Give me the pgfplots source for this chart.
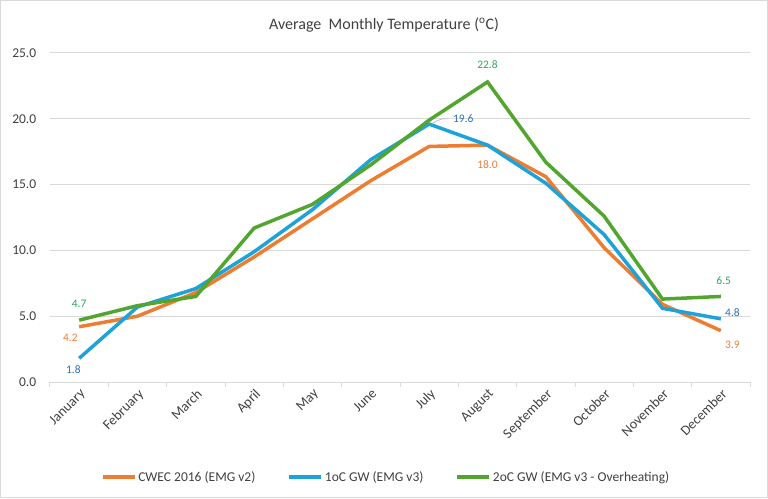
\documentclass[border=0pt]{standalone}
\usepackage{pgfplots}
\pgfplotsset{compat=1.18}
\usepackage{fontspec}
\setmainfont{Carlito}
\definecolor{cwec}{HTML}{ED7D31}
\definecolor{gwone}{HTML}{1EA2DA}
\definecolor{gwtwo}{HTML}{52A630}
\definecolor{lblorange}{HTML}{E8803F}
\definecolor{lblblue}{HTML}{2F6FB0}
\definecolor{lblgreen}{HTML}{30A55E}
\definecolor{txt}{HTML}{404040}
\definecolor{gridc}{HTML}{D9D9D9}

\pgfplotstableread{
m  cwec  gw1   gw2
0  4.2   1.8   4.7
1  5.0   5.7   5.8
2  6.8   7.1   6.5
3  9.5   9.9   11.7
4  12.4  13.1  13.5
5  15.3  16.9  16.5
6  17.9  19.6  19.9
7  18.0  18.0  22.8
8  15.6  15.1  16.7
9  10.2  11.2  12.6
10 5.9   5.6   6.3
11 3.9   4.8   6.5
}\temps

\begin{document}
\begin{tikzpicture}[x=1pt,y=1pt]
\draw[draw=gridc, line width=1pt] (0.5,0.5) rectangle (767.5,497.5);
\node[text=txt, font=\fontsize{16}{19}\selectfont] at (384,473)
  {Average\ \ Monthly Temperature (\textsuperscript{o}C)};
\begin{axis}[
    at={(50pt,116pt)}, anchor=south west,
    scale only axis, width=700pt, height=329pt,
    xmin=-0.5, xmax=11.5, ymin=0, ymax=25,
    xtick={0,...,11},
    xticklabels={January,February,March,April,May,June,July,August,September,October,November,December},
    x tick label style={rotate=45, anchor=north east, font=\fontsize{14}{16}\selectfont, text=txt, inner sep=1pt},
    major x tick style={draw=none},
    minor xtick={-0.5,0.5,...,11.5},
    minor tick length=5pt,
    tick align=outside,
    minor x tick style={draw=gridc, line width=1pt},
    ytick={0,5,...,25},
    y tick label style={font=\fontsize{13.5}{16}\selectfont, text=txt, xshift=-6pt},
    yticklabel style={/pgf/number format/.cd, fixed, fixed zerofill, precision=1, assume math mode=true},
    major y tick style={draw=none},
    ymajorgrids=true,
    grid style={draw=gridc, line width=1pt},
    axis x line*=bottom, axis y line*=left,
    x axis line style={draw=gridc, line width=1pt, -},
    y axis line style={draw=none},
    clip=false,
    legend columns=3,
    legend style={at={(0.48,-0.289)}, anchor=center, draw=none, fill=none,
      font=\fontsize{13.5}{16}\selectfont, text=txt,
      /tikz/every even column/.append style={column sep=30pt}},
    legend image code/.code={\draw[#1, line width=3.5pt] (0pt,0pt) -- (32pt,0pt);},
  ]
  \addplot[cwec, line width=3.5pt] table[x=m, y=cwec] {\temps};
  \addlegendentry{CWEC 2016 (EMG v2)}
  \addplot[gwone, line width=3.5pt] table[x=m, y=gw1] {\temps};
  \addlegendentry{1oC GW (EMG v3)}
  \addplot[gwtwo, line width=3.5pt] table[x=m, y=gw2] {\temps};
  \addlegendentry{2oC GW (EMG v3 - Overheating)}

  \begin{scope}[every node/.style={font=\fontsize{11.5}{14}\selectfont}]
  \node[text=lblorange] at (axis cs:-0.15,4.2) [yshift=-11pt] {4.2};
  \node[text=lblblue] at (axis cs:-0.1,1.8) [yshift=-11pt] {1.8};
  \node[text=lblgreen] at (axis cs:0,4.7) [yshift=16pt] {4.7};
  \draw[gray!60, line width=0.6pt] (axis cs:6.05,19.65) .. controls (axis cs:6.2,20.0) .. (axis cs:6.32,20.0);
  \node[text=lblblue, anchor=west] at (axis cs:6.35,20.0) {19.6};
  \node[text=lblorange] at (axis cs:7,18.0) [yshift=-19pt] {18.0};
  \node[text=lblgreen] at (axis cs:7,22.8) [yshift=17pt] {22.8};
  \node[text=lblgreen] at (axis cs:11.05,6.5) [yshift=16pt] {6.5};
  \node[text=lblblue] at (axis cs:11.2,4.8) [yshift=6pt] {4.8};
  \node[text=lblorange] at (axis cs:11.2,3.9) [yshift=-14pt] {3.9};
  \end{scope}
\end{axis}
\end{tikzpicture}
\end{document}
